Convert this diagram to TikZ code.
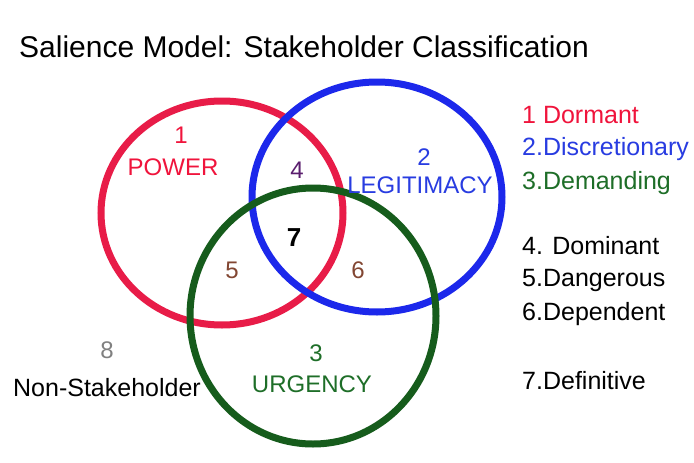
\documentclass[tikz,border=0pt]{standalone}
\usepackage{fontspec}
\setmainfont{Liberation Sans}
\definecolor{cred}{RGB}{232,28,72}
\definecolor{cblue}{RGB}{28,40,235}
\definecolor{cgreen}{RGB}{22,92,28}
\definecolor{tred}{RGB}{240,20,60}
\definecolor{tblue}{RGB}{40,60,225}
\definecolor{tgreen}{RGB}{30,110,40}
\definecolor{tbrown}{RGB}{130,70,50}
\definecolor{tpurple}{RGB}{90,30,110}
\begin{document}
\begin{tikzpicture}[x=1pt,y=-1pt,
  ring/.style={line width=7pt},
  lbl/.style={font=\fontsize{24}{26}\selectfont, inner sep=0pt},
  lst/.style={font=\fontsize{25}{27}\selectfont, inner sep=0pt, anchor=west}]
\useasboundingbox[fill=white] (0,0) rectangle (694,463);
\node[anchor=west, font=\fontsize{30}{32}\selectfont, inner sep=0pt] (title) at (19,47) {Salience Model: Stakeholder Classification};
\draw[ring, cred] (222,213) ellipse [x radius=121, y radius=112];
\draw[ring, cblue] (377,197) ellipse [x radius=125, y radius=115];
\draw[ring, cgreen] (313,316) ellipse [x radius=123, y radius=128];
\node[lbl, tred] (n1) at (181,135) {1};
\node[lbl, tred] (power) at (173,167) {POWER};
\node[lbl, tpurple] (n4) at (297,170) {4};
\node[lbl, tblue] (n2) at (424,157) {2};
\node[lbl, tblue] (legit) at (420,185) {LEGITIMACY};
\node[inner sep=0pt, font=\fontsize{26}{28}\selectfont\bfseries\rmfamily] (n7) at (294,238) {7};
\node[lbl, tbrown] (n5) at (232,270) {5};
\node[lbl, tbrown] (n6) at (358,270) {6};
\node[lbl, gray] (n8) at (107,350) {8};
\node[lst, anchor=center] (non) at (107,388) {Non-Stakeholder};
\node[lbl, tgreen] (n3) at (316,353) {3};
\node[lbl, tgreen] (urg) at (312,384) {URGENCY};
\node[lst, tred] (l1) at (522,115) {1 Dormant};
\node[lst, tblue] (l2) at (522,149) {2.Discretionary};
\node[lst, tgreen] (l3) at (522,183) {3.Demanding};
\node[lst] (l4) at (522,246) {4. Dominant};
\node[lst] (l5) at (522,280) {5.Dangerous};
\node[lst] (l6) at (522,314) {6.Dependent};
\node[lst] (l7) at (522,381) {7.Definitive};
\end{tikzpicture}
\end{document}
